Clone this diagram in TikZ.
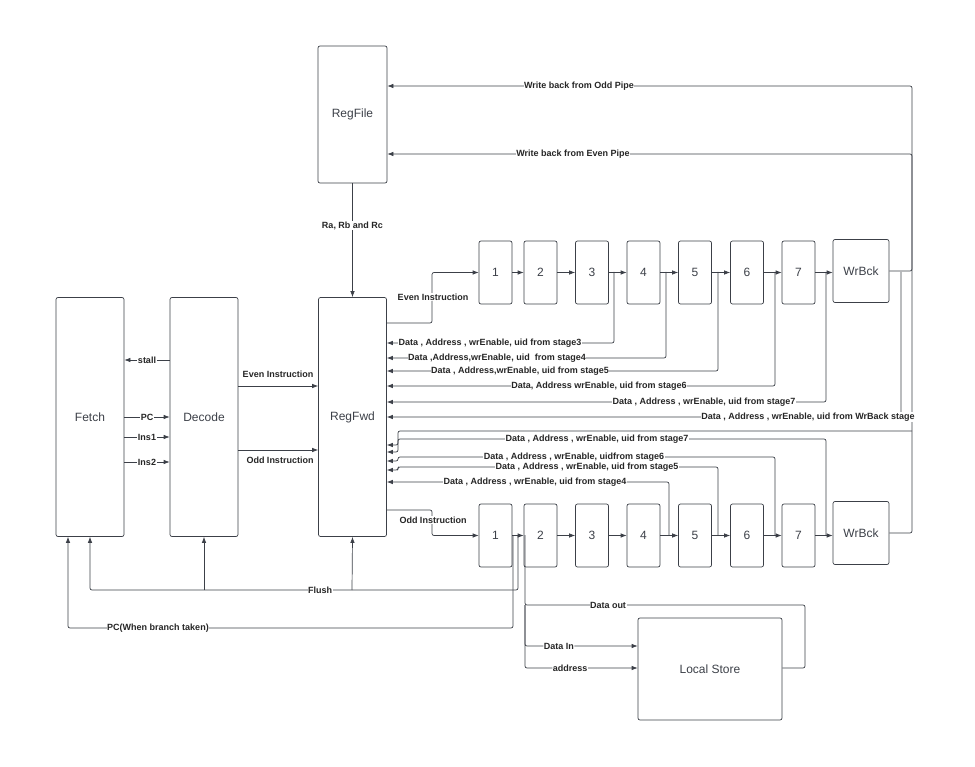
\documentclass[tikz,border=0pt]{standalone}
\usepackage{fontspec}
\setmainfont{Liberation Sans}
\usetikzlibrary{arrows.meta, positioning}
\definecolor{linecolor}{RGB}{60, 64, 72}

\begin{document}
\begin{tikzpicture}[x=1pt, y=-1pt, line width=0.7pt,
    block/.style={draw=linecolor, rounded corners=2pt, text=linecolor, font=\fontsize{12}{14}\selectfont},
    unit/.style={block, minimum width=68pt, minimum height=239pt},
    stage/.style={block, minimum width=33pt, minimum height=63pt},
    lbl/.style={fill=white, inner sep=0.5pt, text=black!85, font=\fontsize{9}{10}\selectfont\bfseries},
    arrow/.style={-{Latex[length=6pt,width=4.5pt]}, draw=linecolor}
]
\useasboundingbox (0,0) rectangle (975,767);

% Main units
\node[unit] (fetch) at (90,417) {Fetch};
\node[unit] (decode) at (204,417) {Decode};
\node[unit] (rf) at (352.5,417) {RegFwd};
\node[block, minimum width=69pt, minimum height=137pt] (regfile) at (352.5,114.5) {RegFile};
\node[block, minimum width=144pt, minimum height=102pt] (ls) at (710,669) {Local Store};

% Pipelines
\foreach \n/\x in {1/495.5,2/540.5,3/592,4/643.5,5/695,6/747,7/798.5} {
  \node[stage] (e\n) at (\x,272.5) {\n};
  \node[stage] (o\n) at (\x,535.5) {\n};
}
\node[stage, minimum width=56pt] (ewb) at (861,271) {WrBck};
\node[stage, minimum width=56pt] (owb) at (861,533) {WrBck};

\foreach \a/\b in {1/2,2/3,3/4,4/5,5/6,6/7} {
  \draw[arrow] (e\a) -- (e\b);
  \draw[arrow] (o\a) -- (o\b);
}
\draw[arrow] (e7) -- (e7 -| ewb.west);
\draw[arrow] (o7) -- (o7 -| owb.west);

% Fetch / Decode
\draw[arrow] (decode.west |- 0,360) -- node[lbl]{stall} (fetch.east |- 0,360);
\draw[arrow] (fetch.east |- 0,417) -- node[lbl]{PC} (decode.west |- 0,417);
\draw[arrow] (fetch.east |- 0,437) -- node[lbl]{Ins1} (decode.west |- 0,437);
\draw[arrow] (fetch.east |- 0,462) -- node[lbl]{Ins2} (decode.west |- 0,462);
\draw[arrow] (decode.east |- 0,386) -- (rf.west |- 0,386);
\node[lbl] at (278,374) {Even Instruction};
\draw[arrow] (decode.east |- 0,450) -- (rf.west |- 0,450);
\node[lbl] at (280,460) {Odd Instruction};
\draw[arrow] (regfile) -- node[lbl, pos=0.37]{Ra, Rb and Rc} (rf);

% Issue
\draw[arrow, rounded corners=2pt] (rf.east |- 0,323) -- (432,323) |- (e1);
\node[lbl] at (433,297) {Even Instruction};
\draw[arrow, rounded corners=2pt] (rf.east |- 0,510) -- (432,510) |- (o1);
\node[lbl] at (433,520) {Odd Instruction};

% Write back
\draw[arrow, rounded corners=2pt] (owb.east) -- (912,533) |- (regfile.east |- 0,86);
\node[lbl] at (579,86) {Write back from Odd Pipe};
\draw[arrow, rounded corners=2pt] (ewb.east) -- (912,271) |- (regfile.east |- 0,154);
\node[lbl] at (573,154) {Write back from Even Pipe};

% Even forwarding
\foreach \x/\y/\lx/\t in {
  614/343/490/{Data , Address , wrEnable, uid from stage3},
  666/358/497/{Data ,Address,wrEnable, uid \ from stage4},
  718/371/520/{Data , Address,wrEnable, uid from stage5},
  775/386/599/{Data, Address wrEnable, uid from stage6},
  826/402/704/{Data , Address , wrEnable, uid from stage7},
  901/417/808/{Data , Address , wrEnable, uid from WrBack stage}} {
  \coordinate (ef) at (\x,272);
  \draw[arrow, rounded corners=2pt] (ef) |- (rf.east |- 0,\y);
  \node[lbl] at (\lx,\y) {\t};
}

% Odd forwarding
\coordinate (ow) at (912,431);
\draw[arrow, rounded corners=2pt] (ow) -- (398,431) -- (398,445) -- (rf.east |- 0,445);
\foreach \x/\y/\e/\lx/\t in {
  826/439/452/597/{Data , Address , wrEnable, uid from stage7},
  775/457/461/574/{Data , Address , wrEnable, uidfrom stage6},
  718/467/470/587/{Data , Address , wrEnable, uid from stage5}} {
  \coordinate (of) at (\x,535);
  \draw[arrow, rounded corners=2pt] (of) |- (398,\y) -- (398,\e) -- (rf.east |- 0,\e);
  \node[lbl] at (\lx,\y) {\t};
}
\coordinate (of4) at (669,535);
\draw[arrow, rounded corners=2pt] (of4) |- (rf.east |- 0,482);
\node[lbl] at (535,482) {Data , Address , wrEnable, uid from stage4};

% Flush and branch
\coordinate (fl) at (518,535);
\draw[arrow, rounded corners=2pt] (fl) |- (90,590) -- (fetch.south -| 90,0);
\draw[arrow, rounded corners=2pt] (204,590) -- (decode.south);
\draw[arrow, rounded corners=2pt] (352,590) -- (rf.south);
\node[lbl] at (320,590) {Flush};
\coordinate (br) at (513,535);
\draw[arrow, rounded corners=2pt] (br) |- (68,628) -- (fetch.south -| 68,0);
\node[lbl] at (158,628) {PC(When branch taken)};

% Local store
\coordinate (ld) at (525,605);
\draw[rounded corners=2pt, draw=linecolor] (ls.east |- 0,668) -- (805,668) |- (ld) -- (525,535);
\node[lbl] at (608,605) {Data out};
\draw[arrow, rounded corners=2pt] (ld) |- node[lbl, pos=0.65]{Data In} (ls.west |- 0,646);
\draw[arrow, rounded corners=2pt] (ld) |- node[lbl, pos=0.7]{address} (ls.west |- 0,668);

\end{tikzpicture}
\end{document}
